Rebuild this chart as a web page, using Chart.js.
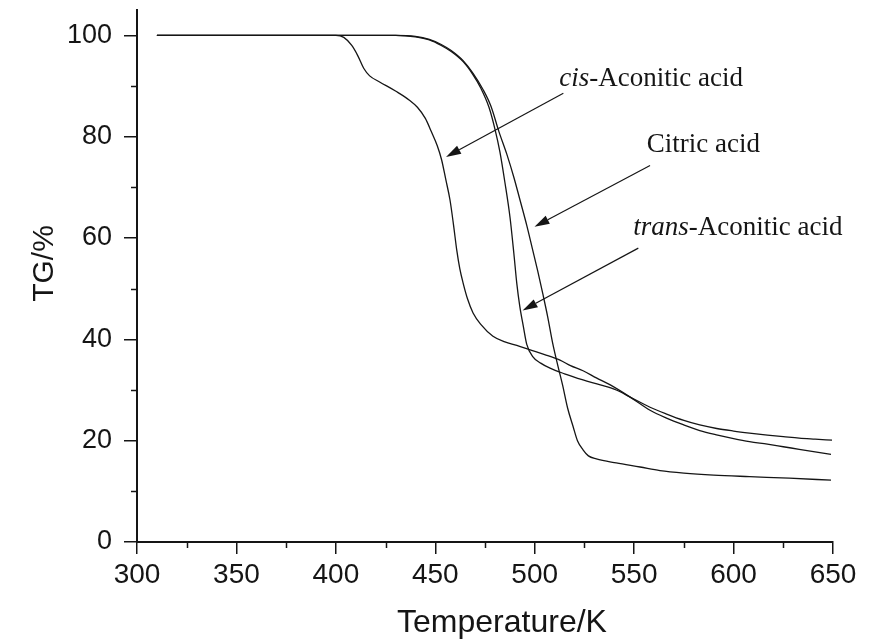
<!DOCTYPE html>
<html><head><meta charset="utf-8">
<script src="https://cdn.jsdelivr.net/npm/chart.js@4/dist/chart.umd.min.js"></script>
<style>html,body{margin:0;padding:0;background:#fff;}canvas{display:block;}</style>
</head><body>
<canvas id="c" width="869" height="639"></canvas>
<script>
// ---- data ----
const cisTemp = [310,400,404,408,411,414,417,422,430,437,441,445,448,451,453.2,455.3,457.4,459.2,460.8,462.3,464,466.2,469,473,479,485,491,497,505,512.7,518,524.3,531,538,548,558,566,575,583,592,600,608,617,625,633,641,649];
const cisTG   = [100,100,99.6,98,96,93.5,92,90.8,89,87.2,85.8,83.6,81,78.2,75.4,71.5,67.5,62.5,57.6,54,51.1,48,45.2,42.9,40.6,39.5,38.8,38,37,35.9,34.8,33.8,32.4,31,28.6,26,24.5,23.1,22,21.1,20.4,19.8,19.3,18.8,18.3,17.8,17.3];

const transTemp = [310,430,440,447,453,458,464,469,473,477,480,482.5,485,487.6,489.5,491,492.5,494.3,496,499,503,507.7,515,524.3,533,541,548,558,566,575,583,591.5,600,608,617,625,633,641,649.5];
const transTG   = [100,100,99.7,99.1,98,96.8,94.8,92.2,89.5,85.8,81.5,77,71,64,57,51,46.5,42.5,39,36.6,35.3,34.3,33.2,32,31,30,28.6,26.6,25.3,24,23.1,22.4,21.9,21.5,21.1,20.8,20.5,20.3,20.1];

const citricTemp = [310,430,440,447,453,458,464,469,474,478,482,486,489.5,492.6,496,499,501.5,504,506.5,509,511.5,514,516.5,519.3,521.5,524.3,527,531,541,553,563,575,590,608,628,649];
const citricTG   = [100,100,99.8,99.2,98.2,97,95,92.5,89.3,86,81,76.5,72,67.5,62.5,57.6,53.5,49.1,44.5,39.3,35,31,26.5,22.8,20,18.2,17,16.4,15.6,14.8,14.1,13.6,13.2,12.9,12.6,12.2];

const xMajorTicks = [300,350,400,450,500,550,600,650];
const xMinorTicks = [325,375,425,475,525,575,625];
const yMajorTicks = [0,20,40,60,80,100];
const yMinorTicks = [10,30,50,70,90];

const seriesNames = ['cis-Aconitic acid','trans-Aconitic acid','Citric acid'];
const xTitle = 'Temperature/K';
const yTitle = 'TG/%';

// ---- annotations (anchors in data units) ----
const annotations = [
  {parts:[['cis',true],['-Aconitic acid',false]], tx:512.4, ty:90.0, tail:[514.4,88.55], tip:[455.4,76.0]},
  {parts:[['Citric acid',false]],                 tx:556.3, ty:77.0, tail:[558.0,74.3],  tip:[499.9,62.2]},
  {parts:[['trans',true],['-Aconitic acid',false]], tx:549.6, ty:60.6, tail:[552.1,58.0], tip:[493.9,45.7]}
];

const toPts = (xs, ys) => xs.map((v,i)=>({x:v, y:ys[i]}));
const INK = '#151515';
const SANS = '"Liberation Sans", Arial, sans-serif';

const extrasPlugin = {
  id:'extras',
  afterDraw(chart){
    const {ctx, chartArea, scales:{x, y}} = chart;
    ctx.save();
    // minor ticks
    ctx.strokeStyle = INK; ctx.lineWidth = 1.5;
    xMinorTicks.forEach(v=>{
      const px = Math.round(x.getPixelForValue(v))+0.5;
      ctx.beginPath(); ctx.moveTo(px, y.bottom); ctx.lineTo(px, y.bottom+6); ctx.stroke();
    });
    yMinorTicks.forEach(v=>{
      const py = Math.round(y.getPixelForValue(v))+0.5;
      ctx.beginPath(); ctx.moveTo(x.left-6, py); ctx.lineTo(x.left, py); ctx.stroke();
    });
    // axis titles
    ctx.fillStyle = INK;
    ctx.font = '32px ' + SANS; ctx.textAlign = 'center'; ctx.textBaseline = 'alphabetic';
    ctx.fillText(xTitle, (chartArea.left + chartArea.right)/2 + 17, chartArea.bottom + 90);
    ctx.save();
    ctx.translate(chartArea.left - 84, (chartArea.top + chartArea.bottom)/2 - 12.5);
    ctx.rotate(-Math.PI/2);
    ctx.font = '30px ' + SANS;
    ctx.fillText(yTitle, 0, 0);
    ctx.restore();
    // annotations
    annotations.forEach(a=>{
      let px = x.getPixelForValue(a.tx); const py = y.getPixelForValue(a.ty);
      ctx.fillStyle = INK; ctx.textAlign='left'; ctx.textBaseline='alphabetic';
      a.parts.forEach(([t,it])=>{
        ctx.font = (it?'italic ':'') + '27px "Liberation Serif", "Times New Roman", serif';
        ctx.fillText(t, px, py);
        px += ctx.measureText(t).width;
      });
      const x1 = x.getPixelForValue(a.tail[0]), y1 = y.getPixelForValue(a.tail[1]);
      const x2 = x.getPixelForValue(a.tip[0]),  y2 = y.getPixelForValue(a.tip[1]);
      const ang = Math.atan2(y2-y1, x2-x1);
      const L = 15, W = 4.5;
      const bx = x2 - L*Math.cos(ang), by = y2 - L*Math.sin(ang);
      ctx.lineWidth = 1.2;
      ctx.beginPath(); ctx.moveTo(x1,y1); ctx.lineTo(bx,by); ctx.stroke();
      ctx.beginPath();
      ctx.moveTo(x2,y2);
      ctx.lineTo(bx + W*Math.sin(ang), by - W*Math.cos(ang));
      ctx.lineTo(bx - W*Math.sin(ang), by + W*Math.cos(ang));
      ctx.closePath(); ctx.fill();
    });
    ctx.restore();
  }
};

const lineDs = (label, pts) => ({
  label, data: pts, borderColor: INK, borderWidth: 1.3, pointRadius: 0,
  fill: false, cubicInterpolationMode: 'monotone'
});

new Chart(document.getElementById('c'), {
  type: 'line',
  data: { datasets: [
    lineDs(seriesNames[0], toPts(cisTemp, cisTG)),
    lineDs(seriesNames[1], toPts(transTemp, transTG)),
    lineDs(seriesNames[2], toPts(citricTemp, citricTG))
  ]},
  options: {
    responsive: false, animation: false,
    layout: { padding: { left: 20, right: 36, top: 10, bottom: 0 } },
    plugins: { legend: { display: false }, tooltip: { enabled: false } },
    scales: {
      x: {
        type: 'linear', min: 300, max: 650,
        afterBuildTicks: s => { s.ticks = xMajorTicks.map(v=>({value:v})); },
        afterFit: s => { s.height = 97; s.paddingLeft = 0; s.paddingRight = 0; },
        ticks: { color: INK, padding: 4, maxRotation: 0, autoSkip: false,
                 font: { family: SANS, size: 28 } },
        grid: { drawOnChartArea: false, drawTicks: true, tickLength: 12, color: INK, lineWidth: 1.5 },
        border: { display: true, color: INK, width: 2 },
        title: { display: false, text: xTitle }
      },
      y: {
        min: 0, max: 105,
        afterBuildTicks: s => { s.ticks = yMajorTicks.map(v=>({value:v})); },
        afterFit: s => { s.width = 117; s.paddingTop = 0; s.paddingBottom = 0; },
        ticks: { color: INK, padding: 12, autoSkip: false,
                 font: { family: SANS, size: 27 } },
        grid: { drawOnChartArea: false, drawTicks: true, tickLength: 13, color: INK, lineWidth: 1.5 },
        border: { display: true, color: INK, width: 2 },
        title: { display: false, text: yTitle }
      }
    }
  },
  plugins: [extrasPlugin]
});
</script>
</body></html>
